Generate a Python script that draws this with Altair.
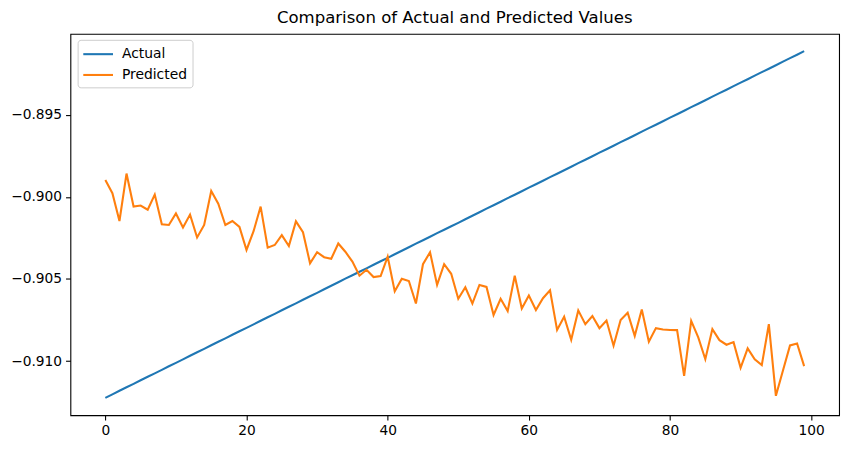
import altair as alt
import pandas as pd

x_index = list(range(100))

actual = [
    -0.91223, -0.91202, -0.91180, -0.91159, -0.91138, -0.91116, -0.91095, -0.91074, -0.91053, -0.91031,
    -0.91010, -0.90989, -0.90967, -0.90946, -0.90925, -0.90903, -0.90882, -0.90861, -0.90839, -0.90818,
    -0.90797, -0.90776, -0.90754, -0.90733, -0.90712, -0.90690, -0.90669, -0.90648, -0.90626, -0.90605,
    -0.90584, -0.90562, -0.90541, -0.90520, -0.90498, -0.90477, -0.90456, -0.90435, -0.90413, -0.90392,
    -0.90371, -0.90349, -0.90328, -0.90307, -0.90285, -0.90264, -0.90243, -0.90221, -0.90200, -0.90179,
    -0.90158, -0.90136, -0.90115, -0.90094, -0.90072, -0.90051, -0.90030, -0.90008, -0.89987, -0.89966,
    -0.89944, -0.89923, -0.89902, -0.89880, -0.89859, -0.89838, -0.89817, -0.89795, -0.89774, -0.89753,
    -0.89731, -0.89710, -0.89689, -0.89667, -0.89646, -0.89625, -0.89603, -0.89582, -0.89561, -0.89540,
    -0.89518, -0.89497, -0.89476, -0.89454, -0.89433, -0.89412, -0.89390, -0.89369, -0.89348, -0.89326,
    -0.89305, -0.89284, -0.89262, -0.89241, -0.89220, -0.89199, -0.89177, -0.89156, -0.89135, -0.89113,
]

predicted = [
    -0.89898, -0.89978, -0.90147, -0.89858, -0.90059, -0.90053, -0.90078, -0.89986, -0.90167, -0.90171,
    -0.90101, -0.90187, -0.90108, -0.90247, -0.90171, -0.89964, -0.90042, -0.90171, -0.90147, -0.90183,
    -0.90323, -0.90209, -0.90059, -0.90309, -0.90293, -0.90233, -0.90299, -0.90149, -0.90215, -0.90404,
    -0.90337, -0.90367, -0.90377, -0.90284, -0.90334, -0.90394, -0.90480, -0.90444, -0.90488, -0.90482,
    -0.90364, -0.90575, -0.90498, -0.90512, -0.90649, -0.90410, -0.90337, -0.90536, -0.90410, -0.90468,
    -0.90620, -0.90550, -0.90649, -0.90536, -0.90548, -0.90719, -0.90620, -0.90695, -0.90480, -0.90680,
    -0.90600, -0.90689, -0.90617, -0.90569, -0.90810, -0.90729, -0.90870, -0.90691, -0.90775, -0.90725,
    -0.90799, -0.90753, -0.90906, -0.90749, -0.90705, -0.90846, -0.90685, -0.90882, -0.90799, -0.90807,
    -0.90810, -0.90811, -0.91090, -0.90755, -0.90855, -0.90988, -0.90805, -0.90872, -0.90900, -0.90884,
    -0.91040, -0.90922, -0.90988, -0.91024, -0.90775, -0.91211, -0.91057, -0.90904, -0.90892, -0.91030,
]

series_names = ["Actual", "Predicted"]
series_colors = ["#1f77b4", "#ff7f0e"]
x_ticks = [0, 20, 40, 60, 80, 100]
y_ticks = [-0.910, -0.905, -0.900, -0.895]

rows = []
for i, v in zip(x_index, actual):
    rows.append({"x": i, "value": v, "series": "Actual"})
for i, v in zip(x_index, predicted):
    rows.append({"x": i, "value": v, "series": "Predicted"})
df = pd.DataFrame(rows)

FONT = "DejaVu Sans"

chart = (
    alt.Chart(df)
    .mark_line(strokeWidth=2.1)
    .encode(
        x=alt.X(
            "x:Q",
            scale=alt.Scale(domain=[-4.95, 103.95], nice=False, zero=False),
            axis=alt.Axis(values=x_ticks, title=None, format="d", grid=False),
        ),
        y=alt.Y(
            "value:Q",
            scale=alt.Scale(domain=[-0.91329, -0.89008], nice=False, zero=False),
            axis=alt.Axis(values=y_ticks, title=None, format=".3f", grid=False),
        ),
        color=alt.Color(
            "series:N",
            scale=alt.Scale(domain=series_names, range=series_colors),
            legend=alt.Legend(
                title=None,
                orient="none",
                legendX=7.3,
                legendY=6,
                symbolType="M-2,0H2",
                symbolSize=225,
                symbolStrokeWidth=2.1,
                symbolOffset=6.2,
                labelFontSize=14,
                labelFont=FONT,
                labelColor="black",
                labelOffset=15,
                rowPadding=5,
                padding=5.5,
                fillColor="white",
                strokeColor="#cccccc",
                cornerRadius=3,
            ),
        ),
        detail="series:N",
    )
    .properties(
        width=776,
        height=385,
        title=alt.Title(
            "Comparison of Actual and Predicted Values",
            fontSize=16.7,
            font=FONT,
            fontWeight="normal",
            color="black",
            anchor="middle",
            offset=7,
        ),
        autosize=alt.AutoSizeParams(type="none"),
        padding={"left": 63, "top": 24, "right": 8, "bottom": 34},
    )
    .configure_view(stroke="black", strokeWidth=1.1)
    .configure_axis(
        domain=False,
        tickColor="black",
        tickSize=4.9,
        tickWidth=1.1,
        labelFont=FONT,
        labelFontSize=13.9,
        labelColor="black",
        labelPadding=4,
    )
)

chart.save("out.html", embed_options={"renderer": "svg", "actions": False})
